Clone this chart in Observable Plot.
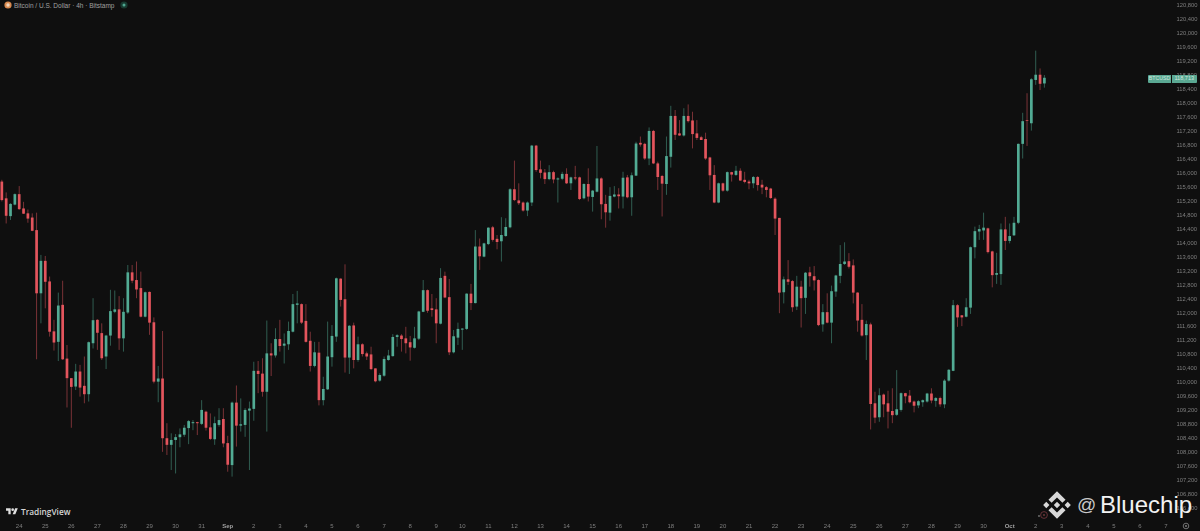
<!DOCTYPE html>
<html>
<head>
<meta charset="utf-8">
<script src="https://cdn.jsdelivr.net/npm/d3@7"></script>
<script src="https://cdn.jsdelivr.net/npm/@observablehq/plot@0.6"></script>
<style>
html,body{margin:0;padding:0;background:#0f0f0f;overflow:hidden;width:1200px;height:531px}
#wrap{position:relative;width:1200px;height:531px;font-family:"Liberation Sans",Arial,sans-serif}
#wrap svg{display:block}
#chart svg{filter:blur(0.3px)}
.ov{position:absolute;white-space:nowrap}
</style>
</head>
<body>
<div id="wrap">
<div id="chart"></div>
<svg class="ov" style="left:4px;top:1px" width="8" height="8" viewBox="0 0 8 8"><circle cx="4" cy="4" r="3.6" fill="#d98a50"/><circle cx="4" cy="4" r="1.7" fill="#f3d6bc"/></svg>
<div class="ov" style="left:14px;top:1px;font-size:6.5px;line-height:9px;color:#a0a0a0">Bitcoin / U.S. Dollar · 4h · Bitstamp</div>
<svg class="ov" style="left:120px;top:1px" width="8" height="8" viewBox="0 0 8 8"><circle cx="4" cy="4" r="3.6" fill="#173a30"/><circle cx="4" cy="4" r="1.5" fill="#4ea58f"/></svg>
<div class="ov" style="left:1148px;top:75px;width:23px;height:7.5px;background:#5aa892;border-radius:1px 0 0 1px;font-size:5.2px;line-height:7.5px;color:#cfe6df;text-align:center">BTCUSD</div>
<div class="ov" style="left:1171.6px;top:75px;width:25.4px;height:7.5px;background:#5aa892;border-radius:0 1px 1px 0;font-size:5.6px;line-height:7.5px;color:#cfe6df;text-align:center">118,713</div>
<svg class="ov" style="left:6px;top:506.5px" width="12" height="9.3" viewBox="0 0 36 28"><path d="M14 22H7V11H0V4h14v18zM28 22h-8l7.5-18h8L28 22z" fill="#e0e0e0"/><circle cx="20" cy="8" r="4" fill="#e0e0e0"/></svg>
<div class="ov" style="left:21px;top:505.5px;font-size:8.3px;line-height:11px;font-weight:600;color:#d6d6d6;font-family:'Open Sans',sans-serif">TradingView</div>
<svg class="ov" style="left:1043px;top:491px" width="28" height="28" viewBox="0 0 126 126"><path fill="#d8d8d8" d="M38.73 53.2 63 28.93 87.28 53.21l14.12-14.12L63 .69 24.6 39.09zM.69 63l14.12-14.12L28.93 63 14.81 77.12zM38.73 72.8 63 97.07 87.28 72.79l14.12 14.11L63 125.3 24.6 86.9zM97.07 63l14.12-14.12L125.31 63l-14.12 14.12zM77.32 63 63 48.68 48.7 62.98 63 77.32z"/></svg>
<svg class="ov" style="left:1037px;top:510px" width="12" height="10" viewBox="0 0 12 10"><circle cx="7" cy="5" r="3.4" fill="none" stroke="#7a3a40" stroke-width="0.8"/><circle cx="2" cy="6" r="0.9" fill="#777"/><circle cx="7" cy="5" r="0.8" fill="#a55"/></svg>
<div class="ov" style="left:1077px;top:493px;font-size:19px;line-height:24px;color:#c9c9c9">@</div>
<div class="ov" style="left:1100px;top:491px;font-size:24px;line-height:27px;color:#f2f2f2">Bluechip</div>
<svg class="ov" style="left:1182px;top:522px" width="8" height="8" viewBox="0 0 8 8"><circle cx="4" cy="4" r="2.8" fill="none" stroke="#8a8a8a" stroke-width="0.8"/><circle cx="4" cy="4" r="0.9" fill="#8a8a8a"/></svg>
</div>
<script>
const opens = [
115740,115260,114750,115080,115380,114970,114830,114710,114350,112540,
113470,112880,111450,111150,112210,110670,110110,109870,110300,109890,
109650,111110,111780,111400,110730,111330,112010,112080,111250,111990,
113140,112920,112690,111870,112580,111710,110010,110100,108390,108200,
108340,108420,108490,108680,108820,108850,108800,109150,108700,108360,
108770,108940,108250,107620,109410,108750,108770,109180,109230,110320,
110240,109720,110820,110760,111230,111040,111080,111440,112210,112230,
111750,111180,110460,110840,109480,109790,110710,111300,112960,112370,
110700,111620,110630,111080,110820,110790,110390,110040,110180,110630,
110740,111290,111330,111250,111140,110980,111240,112010,112630,112110,
112080,111670,113040,112430,110850,111270,111500,111520,112530,112260,
113880,113590,113950,114430,114100,114030,114180,114430,115520,115200,
115140,114910,115140,116770,116090,116000,115810,116010,115800,115820,
115960,115690,115860,115860,115260,115670,115300,115450,115830,115100,
114850,115310,115370,115310,115860,115290,115910,116850,116820,116400,
117190,116260,115900,115670,116450,117620,117120,117060,117620,117490,
117120,117010,116960,116430,115930,115140,115690,115480,116010,115930,
116050,115790,115740,115690,115870,115650,115580,115540,115250,114700,
112570,112940,112890,112160,112730,112410,113140,113030,112920,111650,
112000,111700,112590,113040,113380,113460,113340,112560,111780,111340,
111650,109390,108990,109640,109390,109170,109060,109200,109680,109610,
109440,109330,109420,109440,109670,109460,109540,109360,110040,110320,
112200,111910,111870,112130,113860,114310,114340,114400,113740,113070,
113090,114370,114040,114200,114560,116820,117500,117410,118650,118800,
118550];
const closes = [
115210,114760,115100,115380,114950,114820,114680,114330,112540,113470,
112870,111440,111130,112190,110650,110110,109860,110300,109840,109650,
111140,111770,111410,110680,111330,112030,112080,111250,112010,113140,
112900,112650,111870,112570,111700,110010,110100,108390,108200,108340,
108420,108500,108690,108880,108850,108820,109200,108690,108370,108820,
108910,108240,107630,109410,108750,108790,109200,109240,110320,110230,
109720,110820,110760,111230,111030,111100,111460,112230,112250,111700,
111150,110460,110850,109480,109800,110730,111320,112970,112350,110700,
111610,110630,111080,110800,110730,110370,110020,110200,110660,110760,
111290,111340,111230,111110,110990,111250,112020,112630,112040,112060,
111680,112980,112420,110850,111310,111520,111530,112530,112260,113880,
113600,113970,114420,114070,114010,114210,114440,115520,115210,115120,
114910,115140,116770,116070,115990,115810,116010,115800,115830,115960,
115690,115860,115830,115240,115670,115310,115480,115830,115090,114860,
115330,115370,115320,115850,115290,115920,116830,116800,116400,117190,
116260,115870,115680,116470,117620,117080,117060,117620,117470,117100,
116990,116930,116400,115920,115140,115690,115480,116010,115940,116050,
115770,115730,115690,115870,115640,115570,115500,115270,114680,112560,
112940,112870,112140,112730,112400,113130,113030,112910,111630,112000,
111700,112600,113050,113380,113450,113300,112560,111760,111330,111660,
109370,108980,109620,109360,109150,109050,109220,109680,109590,109420,
109320,109450,109480,109670,109470,109540,109360,110040,110350,112200,
111850,111850,112140,113860,114320,114380,114420,113720,113060,113120,
114370,114040,114180,114560,116820,117470,117480,118670,118800,118540,
118713];
const highs = [
115790,115430,115120,115400,115610,115160,114940,114830,114850,113640,
113610,113020,111780,112560,112900,111060,110110,110520,110490,110730,
111160,112400,111800,111680,111350,112640,112620,112460,112400,113350,
113350,113450,113160,112590,112590,111850,110460,111460,108820,108530,
108510,108670,108770,108910,108910,108860,109480,109180,109100,109010,
109250,109250,108460,109440,109900,109530,109250,109440,110580,110600,
110680,111760,111110,111540,111780,111390,111730,112520,112610,112250,
112230,111440,111150,111150,110150,111730,111630,112990,112970,113370,
111630,111700,111300,111110,110870,111010,110390,110250,110730,110920,
111370,111370,111370,111580,111320,111580,112040,112920,112650,112520,
112400,113260,113160,112950,111490,111700,111540,112540,112810,114350,
114110,113990,114430,114470,114210,114720,114690,115550,116340,115690,
115170,115170,116790,116790,116340,116100,116210,116050,115860,116020,
116120,115880,116190,115880,115690,116120,115500,116760,115860,115360,
115580,115610,115550,116020,115930,116000,116880,117030,116850,117290,
117220,116310,115930,117030,117910,117790,117500,117840,117950,117740,
117500,117050,117140,116450,116210,115710,115710,116030,116020,116190,
116120,116020,115790,115900,115900,115790,115610,115560,115290,114700,
113020,113490,112920,113040,112900,113150,113300,113320,112940,112230,
112540,112760,113070,113920,114000,113690,113510,112570,112230,111760,
111700,109720,109820,109670,109750,109820,110340,109700,109690,109770,
109470,109480,109500,109690,109820,109570,109580,110080,110370,112350,
112230,111920,112400,113880,114450,114500,114850,114420,113760,113700,
114540,114730,114540,114730,116830,117710,118270,118700,119490,118980,
118790];
const lows = [
115170,114540,114640,115060,114930,114810,114560,114320,110650,111680,
112110,111300,110900,110600,110630,109270,108690,109770,109580,109390,
109440,110960,110920,110630,110370,111040,111970,110920,110870,111950,
112830,112400,111850,111850,111350,109960,109420,108000,107910,107480,
107380,108130,108430,108220,108620,108480,108770,108610,108340,108200,
108720,108130,107430,107290,108150,108580,108430,107480,108890,109680,
109580,108580,110170,110700,110870,110530,110920,111420,111680,111660,
111130,110300,110420,109330,109330,109770,110440,111150,112160,110270,
110230,110390,110580,110730,110630,110340,109990,110010,110150,110610,
110730,111010,110870,110820,110610,110960,111200,112000,111980,111870,
111110,111650,112400,110770,110820,111060,110920,111490,112060,112250,
113210,113570,113920,114020,113800,113450,114160,114400,115180,115070,
114880,114750,115040,116020,115830,115670,115780,115690,115140,115780,
115670,115500,115780,115210,115230,115170,114880,115430,114660,114420,
114620,115290,114970,114970,115260,114760,115900,116740,116360,116210,
116240,115500,114740,115360,116140,116930,117050,117030,117430,116690,
116930,116930,116360,115500,115120,115120,115450,115450,115740,115900,
115760,115690,115520,115550,115480,115380,115290,115240,114210,111970,
112250,112780,112010,112060,111560,111950,112730,112620,111600,111440,
111680,111110,112440,112830,113350,113250,112250,111440,111300,110630,
108640,108820,108860,108990,108670,108820,109030,109150,109390,109390,
109130,109250,109290,109410,109390,109290,109290,109250,110010,110310,
111580,111600,111850,111950,113540,114070,114070,113680,112710,112810,
112780,113780,113970,114180,114520,116400,116760,117200,118510,118360,
118430];
const dayLabels = ["24","25","26","27","28","29","30","31","Sep","2","3","4","5","6","7","8","9","10","11","12","13","14","15","16","17","18","19","20","21","22","23","24","25","26","27","28","29","30","Oct","2","3","4","5","6","7"];
const priceTicks = [106400,106800,107200,107600,108000,108400,108800,109200,109600,110000,110400,110800,111200,111600,112000,112400,112800,113200,113600,114000,114400,114800,115200,115600,116000,116400,116800,117200,117600,118000,118400,118800,119200,119600,120000,120400,120800];
const candlesPerDay = 6, firstDayCandle = 4;
const upColor = "#52ab94", downColor = "#e4555d";

const candles = opens.map((o, i) => ({i, o, c: closes[i], h: highs[i], l: lows[i], col: closes[i] >= o ? upColor : downColor}));
const tickIdx = dayLabels.map((_, k) => firstDayCandle + k * candlesPerDay);
const labelAt = i => dayLabels[(i - firstDayCandle) / candlesPerDay];
const isMonth = i => /[A-Za-z]/.test(labelAt(i));

const plot = Plot.plot({
  width: 1200, height: 531,
  marginLeft: 0, marginRight: 25, marginTop: 0, marginBottom: 10,
  style: {background: "#0f0f0f", fontFamily: "'Liberation Sans',Arial,sans-serif"},
  x: {type: "linear", domain: [-0.306, 270.18], axis: null},
  y: {domain: [106019, 120940], axis: null},
  marks: [
    Plot.ruleX(candles, {x: "i", y1: "l", y2: "h", stroke: "col", strokeWidth: 1, strokeOpacity: 0.5}),
    Plot.ruleX(candles, {x: "i", y1: "o", y2: "c", stroke: "col", strokeWidth: 2.7}),
    Plot.axisY(priceTicks, {anchor: "right", tickSize: 0, tickPadding: 1, fontSize: 5.8, fill: "#7f7f7f", label: null, tickFormat: d3.format(",")}),
    Plot.axisX(tickIdx.filter(i => !isMonth(i)), {anchor: "bottom", tickSize: 0, tickPadding: 2, fontSize: 6, fill: "#7f7f7f", label: null, tickFormat: labelAt}),
    Plot.axisX(tickIdx.filter(isMonth), {anchor: "bottom", tickSize: 0, tickPadding: 2, fontSize: 6, fontWeight: "bold", fill: "#a0a0a0", label: null, tickFormat: labelAt})
  ]
});
document.getElementById("chart").appendChild(plot);
</script>
</body>
</html>
